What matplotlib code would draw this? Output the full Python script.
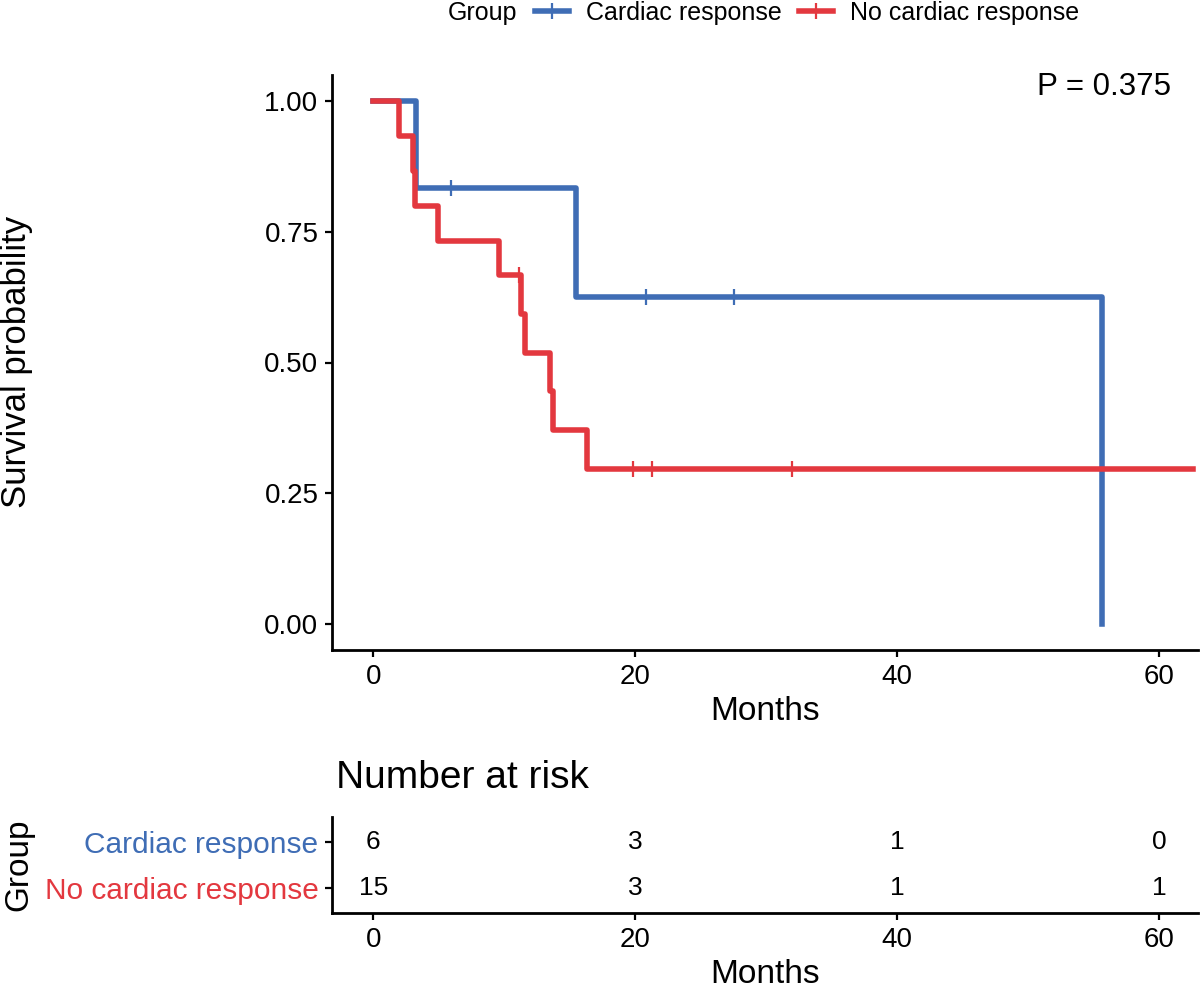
import numpy as np
import matplotlib.pyplot as plt
from matplotlib.lines import Line2D

plt.rcParams['font.family'] = ['Liberation Sans', 'DejaVu Sans']

groups = ['Cardiac response', 'No cardiac response']
colors = ['#3F6DB5', '#E3383F']

# KM steps (months, survival probability)
resp_t = [0, 3.26, 15.5, 55.6]
resp_s = [1.0, 0.833, 0.625, 0.0]
resp_cens = [5.93, 20.8, 27.5]

noresp_t = [0, 2.0, 3.0, 3.2, 4.96, 9.6, 11.3, 11.6, 13.5, 13.7, 16.3, 62.6]
noresp_s = [1.0, 0.933, 0.867, 0.8, 0.733, 0.667, 0.593, 0.519, 0.445, 0.371, 0.297, 0.297]
noresp_cens = [11.15, 19.85, 21.3, 32.0]

risk_times = [0, 20, 40, 60]
risk_resp = [6, 3, 1, 0]
risk_noresp = [15, 3, 1, 1]

p_text = 'P = 0.375'

W, H = 1200, 992
fig = plt.figure(figsize=(W/100, H/100), dpi=100)

xlim = (-3.13, 62.95)
left = 332.3/W
width = 865.6/W

def style_axes(ax):
	ax.spines['top'].set_visible(False)
	ax.spines['right'].set_visible(False)
	ax.spines['left'].set_linewidth(2)
	ax.spines['bottom'].set_linewidth(2)
	ax.tick_params(direction='out', length=5, width=1.6, labelsize=20, pad=5, colors='black')

# main survival panel
ax = fig.add_axes([left, 1-650.15/H, width, 575.3/H])
style_axes(ax)
curves = [(resp_t, resp_s, resp_cens), (noresp_t, noresp_s, noresp_cens)]
for k, (t, s, cens) in enumerate(curves):
	ax.step(t, s, where='post', color=colors[k], lw=4, zorder=2+k)
	t = np.array(t)
	idx = np.searchsorted(t, cens, side='right') - 1
	cy = np.array(s)[idx]
	ax.plot(cens, cy, ls='none', marker='|', ms=11, mew=1.6, color=colors[k], zorder=2+k)

ax.set_xlim(*xlim)
ax.set_ylim(-0.05, 1.05)
ax.set_xticks(risk_times)
ax.set_yticks([0, 0.25, 0.5, 0.75, 1.0])
ax.set_yticklabels(['0.00', '0.25', '0.50', '0.75', '1.00'])
ax.set_xlabel('Months', fontsize=24, labelpad=4)
ax.text(50.7, 1.027, p_text, fontsize=22.5, ha='left', va='center')

fig.text(17/W, 1-362/H, 'Survival probability', rotation=90, fontsize=25, ha='center', va='center')

# legend on top
fig.text(448/W, 1-13/H, 'Group', fontsize=18, ha='left', va='center')
handles = [Line2D([], [], color=c, lw=4, marker='|', ms=11, mew=1.6) for c in colors]
fig.legend(handles, groups, loc='center left', bbox_to_anchor=(535/W, 1-13/H), ncol=2,
	frameon=False, fontsize=18, handlelength=1.36, handletextpad=0.68, columnspacing=0.68,
	borderpad=0, borderaxespad=0)

# risk table
ax2 = fig.add_axes([left, 1-913.3/H, width, 96.6/H])
style_axes(ax2)
ax2.set_xlim(*xlim)
ax2.set_ylim(0.427, 2.573)
ax2.set_xticks(risk_times)
ax2.set_yticks([2, 1])
ax2.set_yticklabels(groups, fontsize=21.5)
for lab, c in zip(ax2.get_yticklabels(), colors):
	lab.set_color(c)
for tm, a, b in zip(risk_times, risk_resp, risk_noresp):
	ax2.text(tm, 2, str(a), ha='center', va='center', fontsize=19)
	ax2.text(tm, 1, str(b), ha='center', va='center', fontsize=19)
ax2.set_xlabel('Months', fontsize=24, labelpad=4)

fig.text(336/W, 1-778/H, 'Number at risk', fontsize=28, ha='left', va='center')
fig.text(19/W, 1-865/H, 'Group', rotation=90, fontsize=24, ha='center', va='center')

fig.savefig('out.png', dpi=100)
